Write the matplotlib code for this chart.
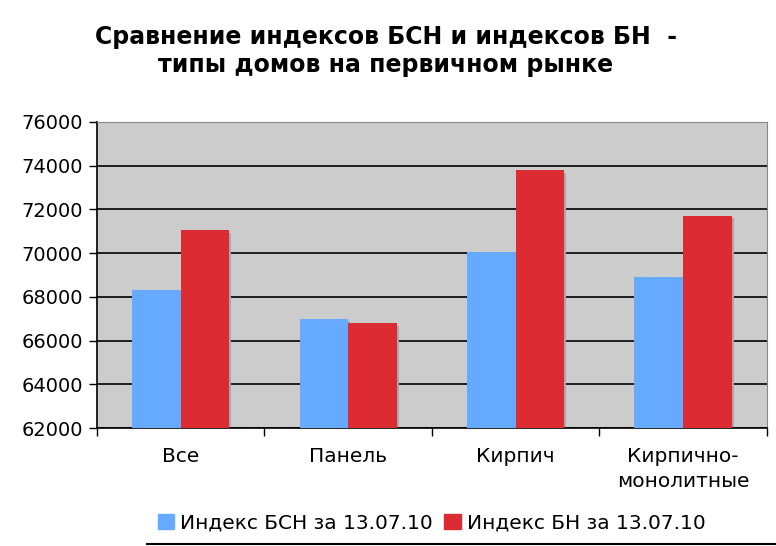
import matplotlib.pyplot as plt
import matplotlib.patches as mpatches
import numpy as np

categories = ['Все', 'Панель', 'Кирпич', 'Кирпично-\nмонолитные']
bsn = [68300, 67000, 70050, 68900]
bn = [71050, 66800, 73800, 71700]
series_names = ['Индекс БСН за 13.07.10', 'Индекс БН за 13.07.10']
title = 'Сравнение индексов БСН и индексов БН  -\nтипы домов на первичном рынке'

plt.rcParams['font.family'] = ['DejaVu Sans']

fig = plt.figure(figsize=(7.76, 5.46), dpi=100)
ax = fig.add_axes([0.125, 0.216, 0.863, 0.561])
ax.set_facecolor('#cccccc')

x = np.arange(len(categories))
w = 0.29
base = 62000

# shadows behind the bars
for off, vals in ((-w / 2, bsn), (w / 2, bn)):
    ax.bar(x + off + 0.012, np.array(vals) - base - 60, w, bottom=base - 60,
           color='#a8a8a8', zorder=2)
ax.bar(x - w / 2, np.array(bsn) - base, w, bottom=base, color='#66aaff', zorder=3)
ax.bar(x + w / 2, np.array(bn) - base, w, bottom=base, color='#dc2b32', zorder=3)

ax.set_ylim(62000, 76000)
ax.set_xlim(-0.5, len(categories) - 0.5)
ax.set_yticks(np.arange(62000, 76001, 2000))
ax.yaxis.grid(True, color='black', linewidth=1.2, zorder=1)
ax.set_axisbelow(True)
ax.tick_params(axis='y', labelsize=14, length=6, width=1, pad=4)

ax.set_xticks(np.arange(-0.5, len(categories), 1.0))
ax.set_xticklabels([])
ax.tick_params(axis='x', length=6, width=1)
for i, lab in enumerate(categories):
    ax.text(i, 61150, lab, ha='center', va='top', fontsize=14.5,
            linespacing=1.45)

for s in ['top', 'right']:
    ax.spines[s].set_color('#888888')
ax.spines['left'].set_color('black')
ax.spines['bottom'].set_color('black')
ax.spines['left'].set_linewidth(1.2)
ax.spines['bottom'].set_linewidth(1.2)

fig.text(0.497, 0.907, title, ha='center', va='center', fontsize=17,
         fontweight='bold', linespacing=1.2)

patch1 = mpatches.Patch(color='#66aaff', label=series_names[0])
patch2 = mpatches.Patch(color='#dc2b32', label=series_names[1])
fig.legend(handles=[patch1, patch2], loc='center', bbox_to_anchor=(0.556, 0.042),
           ncol=2, frameon=False, fontsize=14.5, handlelength=0.8,
           handleheight=0.8, handletextpad=0.3, columnspacing=0.6)

fig.add_artist(plt.Line2D([0.19, 1.0], [0.004, 0.004], color='black',
                          linewidth=1.5, transform=fig.transFigure))

plt.savefig('out.png', dpi=100)
